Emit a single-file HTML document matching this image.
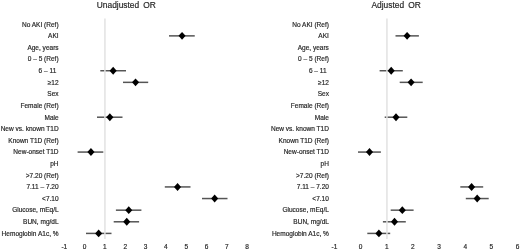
<!DOCTYPE html><html><head><meta charset="utf-8"><style>html,body{margin:0;padding:0;background:#fff}svg{display:block}text{font-family:"Liberation Sans",Arial,sans-serif;fill:#262626;stroke:#262626;stroke-width:0.18px}</style></head><body>
<svg width="520" height="250" viewBox="0 0 520 250">
<rect width="520" height="250" fill="#fff"/>
<text x="96.8" y="7.5" font-size="8.4" style="word-spacing:-0.3px" xml:space="preserve">Unadjusted  OR</text>
<line x1="169.00" y1="35.87" x2="194.75" y2="35.87" stroke="#555" stroke-width="1.5"/>
<line x1="100.30" y1="70.73" x2="126.00" y2="70.73" stroke="#555" stroke-width="1.5"/>
<line x1="123.00" y1="82.35" x2="148.20" y2="82.35" stroke="#555" stroke-width="1.5"/>
<line x1="97.00" y1="117.21" x2="122.50" y2="117.21" stroke="#555" stroke-width="1.5"/>
<line x1="77.60" y1="152.07" x2="103.30" y2="152.07" stroke="#555" stroke-width="1.5"/>
<line x1="164.80" y1="186.93" x2="190.50" y2="186.93" stroke="#555" stroke-width="1.5"/>
<line x1="202.00" y1="198.55" x2="227.50" y2="198.55" stroke="#555" stroke-width="1.5"/>
<line x1="115.90" y1="210.17" x2="141.40" y2="210.17" stroke="#555" stroke-width="1.5"/>
<line x1="113.70" y1="221.79" x2="139.10" y2="221.79" stroke="#555" stroke-width="1.5"/>
<line x1="86.00" y1="233.41" x2="111.50" y2="233.41" stroke="#555" stroke-width="1.5"/>
<line x1="104.92" y1="18.5" x2="104.92" y2="239" stroke="#e2e2e2" stroke-width="1.5"/>
<text transform="translate(58.60 26.55) scale(0.975 1.04)" font-size="6.7" text-anchor="end">No AKI (Ref)</text>
<text transform="translate(58.60 38.17) scale(0.975 1.04)" font-size="6.7" text-anchor="end">AKI</text>
<path d="M178.50 35.87L182.05 31.92L185.60 35.87L182.05 39.82Z" fill="#000"/>
<text transform="translate(58.60 49.79) scale(0.975 1.04)" font-size="6.7" text-anchor="end">Age, years</text>
<text transform="translate(58.60 61.41) scale(0.975 1.04)" font-size="6.7" text-anchor="end">0 – 5 (Ref)</text>
<text transform="translate(56.30 73.03) scale(0.975 1.04)" font-size="6.7" text-anchor="end">6 – 11</text>
<path d="M109.60 70.73L113.15 66.78L116.70 70.73L113.15 74.68Z" fill="#000"/>
<text transform="translate(58.60 84.65) scale(0.975 1.04)" font-size="6.7" text-anchor="end">≥12</text>
<path d="M132.00 82.35L135.55 78.40L139.10 82.35L135.55 86.30Z" fill="#000"/>
<text transform="translate(58.60 96.27) scale(0.975 1.04)" font-size="6.7" text-anchor="end">Sex</text>
<text transform="translate(58.60 107.89) scale(0.975 1.04)" font-size="6.7" text-anchor="end">Female (Ref)</text>
<text transform="translate(58.60 119.51) scale(0.975 1.04)" font-size="6.7" text-anchor="end">Male</text>
<path d="M106.30 117.21L109.85 113.26L113.40 117.21L109.85 121.16Z" fill="#000"/>
<text transform="translate(58.60 131.13) scale(0.975 1.04)" font-size="6.7" text-anchor="end">New vs. known T1D</text>
<text transform="translate(58.60 142.75) scale(0.975 1.04)" font-size="6.7" text-anchor="end">Known T1D (Ref)</text>
<text transform="translate(58.60 154.37) scale(0.975 1.04)" font-size="6.7" text-anchor="end">New-onset T1D</text>
<path d="M87.40 152.07L90.95 148.12L94.50 152.07L90.95 156.02Z" fill="#000"/>
<text transform="translate(58.60 165.99) scale(0.975 1.04)" font-size="6.7" text-anchor="end">pH</text>
<text transform="translate(58.60 177.61) scale(0.975 1.04)" font-size="6.7" text-anchor="end">&gt;7.20 (Ref)</text>
<text transform="translate(58.60 189.23) scale(0.975 1.04)" font-size="6.7" text-anchor="end">7.11 – 7.20</text>
<path d="M174.00 186.93L177.55 182.98L181.10 186.93L177.55 190.88Z" fill="#000"/>
<text transform="translate(58.60 200.85) scale(0.975 1.04)" font-size="6.7" text-anchor="end">&lt;7.10</text>
<path d="M211.10 198.55L214.65 194.60L218.20 198.55L214.65 202.50Z" fill="#000"/>
<text transform="translate(58.60 212.47) scale(0.975 1.04)" font-size="6.7" text-anchor="end">Glucose, mEq/L</text>
<path d="M125.20 210.17L128.75 206.22L132.30 210.17L128.75 214.12Z" fill="#000"/>
<text transform="translate(58.60 224.09) scale(0.975 1.04)" font-size="6.7" text-anchor="end">BUN, mg/dL</text>
<path d="M123.20 221.79L126.75 217.84L130.30 221.79L126.75 225.74Z" fill="#000"/>
<text transform="translate(58.60 235.71) scale(0.975 1.04)" font-size="6.7" text-anchor="end">Hemoglobin A1c, %</text>
<path d="M95.10 233.41L98.65 229.46L102.20 233.41L98.65 237.36Z" fill="#000"/>
<text transform="translate(64.28 249.2) scale(0.975 1.04)" font-size="6.7" text-anchor="middle">-1</text>
<text transform="translate(84.60 249.2) scale(0.975 1.04)" font-size="6.7" text-anchor="middle">0</text>
<text transform="translate(104.92 249.2) scale(0.975 1.04)" font-size="6.7" text-anchor="middle">1</text>
<text transform="translate(125.24 249.2) scale(0.975 1.04)" font-size="6.7" text-anchor="middle">2</text>
<text transform="translate(145.56 249.2) scale(0.975 1.04)" font-size="6.7" text-anchor="middle">3</text>
<text transform="translate(165.88 249.2) scale(0.975 1.04)" font-size="6.7" text-anchor="middle">4</text>
<text transform="translate(186.20 249.2) scale(0.975 1.04)" font-size="6.7" text-anchor="middle">5</text>
<text transform="translate(206.52 249.2) scale(0.975 1.04)" font-size="6.7" text-anchor="middle">6</text>
<text transform="translate(226.84 249.2) scale(0.975 1.04)" font-size="6.7" text-anchor="middle">7</text>
<text transform="translate(247.16 249.2) scale(0.975 1.04)" font-size="6.7" text-anchor="middle">8</text>
<text x="371.5" y="7.5" font-size="8.4" style="word-spacing:-0.3px" xml:space="preserve">Adjusted  OR</text>
<line x1="395.50" y1="35.87" x2="418.90" y2="35.87" stroke="#555" stroke-width="1.5"/>
<line x1="379.60" y1="70.73" x2="402.80" y2="70.73" stroke="#555" stroke-width="1.5"/>
<line x1="399.70" y1="82.35" x2="422.70" y2="82.35" stroke="#555" stroke-width="1.5"/>
<line x1="384.70" y1="117.21" x2="407.30" y2="117.21" stroke="#555" stroke-width="1.5"/>
<line x1="358.00" y1="152.07" x2="380.90" y2="152.07" stroke="#555" stroke-width="1.5"/>
<line x1="460.30" y1="186.93" x2="483.20" y2="186.93" stroke="#555" stroke-width="1.5"/>
<line x1="465.80" y1="198.55" x2="488.70" y2="198.55" stroke="#555" stroke-width="1.5"/>
<line x1="390.70" y1="210.17" x2="413.60" y2="210.17" stroke="#555" stroke-width="1.5"/>
<line x1="382.90" y1="221.79" x2="405.80" y2="221.79" stroke="#555" stroke-width="1.5"/>
<line x1="367.30" y1="233.41" x2="390.20" y2="233.41" stroke="#555" stroke-width="1.5"/>
<line x1="386.95" y1="18.5" x2="386.95" y2="239" stroke="#e2e2e2" stroke-width="1.5"/>
<text transform="translate(328.90 26.55) scale(0.975 1.04)" font-size="6.7" text-anchor="end">No AKI (Ref)</text>
<text transform="translate(328.90 38.17) scale(0.975 1.04)" font-size="6.7" text-anchor="end">AKI</text>
<path d="M403.55 35.87L407.10 31.92L410.65 35.87L407.10 39.82Z" fill="#000"/>
<text transform="translate(328.90 49.79) scale(0.975 1.04)" font-size="6.7" text-anchor="end">Age, years</text>
<text transform="translate(328.90 61.41) scale(0.975 1.04)" font-size="6.7" text-anchor="end">0 – 5 (Ref)</text>
<text transform="translate(326.60 73.03) scale(0.975 1.04)" font-size="6.7" text-anchor="end">6 – 11</text>
<path d="M387.65 70.73L391.20 66.78L394.75 70.73L391.20 74.68Z" fill="#000"/>
<text transform="translate(328.90 84.65) scale(0.975 1.04)" font-size="6.7" text-anchor="end">≥12</text>
<path d="M407.55 82.35L411.10 78.40L414.65 82.35L411.10 86.30Z" fill="#000"/>
<text transform="translate(328.90 96.27) scale(0.975 1.04)" font-size="6.7" text-anchor="end">Sex</text>
<text transform="translate(328.90 107.89) scale(0.975 1.04)" font-size="6.7" text-anchor="end">Female (Ref)</text>
<text transform="translate(328.90 119.51) scale(0.975 1.04)" font-size="6.7" text-anchor="end">Male</text>
<path d="M392.45 117.21L396.00 113.26L399.55 117.21L396.00 121.16Z" fill="#000"/>
<text transform="translate(328.90 131.13) scale(0.975 1.04)" font-size="6.7" text-anchor="end">New vs. known T1D</text>
<text transform="translate(328.90 142.75) scale(0.975 1.04)" font-size="6.7" text-anchor="end">Known T1D (Ref)</text>
<text transform="translate(328.90 154.37) scale(0.975 1.04)" font-size="6.7" text-anchor="end">New-onset T1D</text>
<path d="M365.95 152.07L369.50 148.12L373.05 152.07L369.50 156.02Z" fill="#000"/>
<text transform="translate(328.90 165.99) scale(0.975 1.04)" font-size="6.7" text-anchor="end">pH</text>
<text transform="translate(328.90 177.61) scale(0.975 1.04)" font-size="6.7" text-anchor="end">&gt;7.20 (Ref)</text>
<text transform="translate(328.90 189.23) scale(0.975 1.04)" font-size="6.7" text-anchor="end">7.11 – 7.20</text>
<path d="M468.05 186.93L471.60 182.98L475.15 186.93L471.60 190.88Z" fill="#000"/>
<text transform="translate(328.90 200.85) scale(0.975 1.04)" font-size="6.7" text-anchor="end">&lt;7.10</text>
<path d="M473.65 198.55L477.20 194.60L480.75 198.55L477.20 202.50Z" fill="#000"/>
<text transform="translate(328.90 212.47) scale(0.975 1.04)" font-size="6.7" text-anchor="end">Glucose, mEq/L</text>
<path d="M398.75 210.17L402.30 206.22L405.85 210.17L402.30 214.12Z" fill="#000"/>
<text transform="translate(328.90 224.09) scale(0.975 1.04)" font-size="6.7" text-anchor="end">BUN, mg/dL</text>
<path d="M390.95 221.79L394.50 217.84L398.05 221.79L394.50 225.74Z" fill="#000"/>
<text transform="translate(328.90 235.71) scale(0.975 1.04)" font-size="6.7" text-anchor="end">Hemoglobin A1c, %</text>
<path d="M375.35 233.41L378.90 229.46L382.45 233.41L378.90 237.36Z" fill="#000"/>
<text transform="translate(334.45 249.2) scale(0.975 1.04)" font-size="6.7" text-anchor="middle">-1</text>
<text transform="translate(360.60 249.2) scale(0.975 1.04)" font-size="6.7" text-anchor="middle">0</text>
<text transform="translate(386.75 249.2) scale(0.975 1.04)" font-size="6.7" text-anchor="middle">1</text>
<text transform="translate(412.90 249.2) scale(0.975 1.04)" font-size="6.7" text-anchor="middle">2</text>
<text transform="translate(439.05 249.2) scale(0.975 1.04)" font-size="6.7" text-anchor="middle">3</text>
<text transform="translate(465.20 249.2) scale(0.975 1.04)" font-size="6.7" text-anchor="middle">4</text>
<text transform="translate(491.35 249.2) scale(0.975 1.04)" font-size="6.7" text-anchor="middle">5</text>
<text transform="translate(517.50 249.2) scale(0.975 1.04)" font-size="6.7" text-anchor="middle">6</text>
</svg></body></html>
